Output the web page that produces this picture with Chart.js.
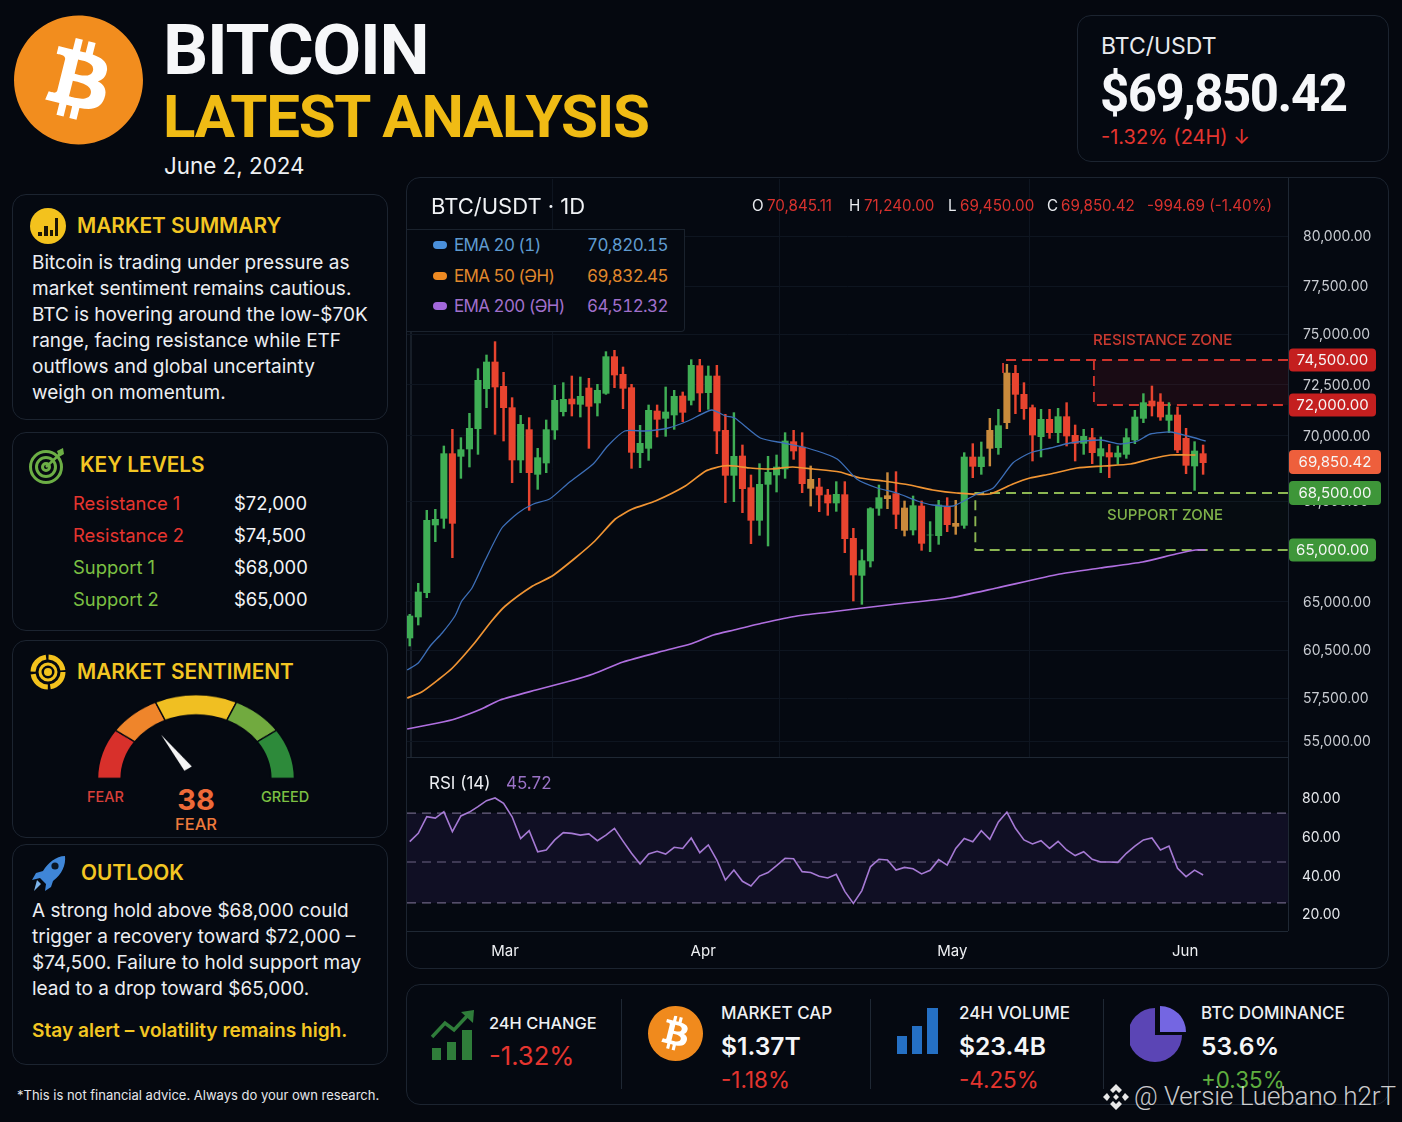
<!DOCTYPE html>
<html>
<head>
<meta charset="utf-8">
<title>Bitcoin Latest Analysis</title>
<script src="https://cdn.jsdelivr.net/npm/chart.js@4"></script>
<style>
* { box-sizing: border-box; margin: 0; padding: 0; }
html, body { width: 1402px; height: 1122px; overflow: hidden; background: #05080f; font-family: Inter, sans-serif; color: #f2f4f7; }
.abs, .card, canvas, svg { position: absolute; }
.t { position: absolute; white-space: nowrap; line-height: 1; }
.card { border: 1px solid #1c2430; border-radius: 14px; background: #050911; }
.head { font-weight: 600; font-size: 20.8px; color: #f3c623; }
.body { font-size: 19px; line-height: 26px; color: #eceef2; }
.lvl { font-size: 18.4px; }
.red { color: #e5352f; }
.green { color: #7cc043; }
.lab { font-size: 17px; font-weight: 500; color: #eef0f3; }
.big { font-size: 24.6px; font-weight: 600; color: #f4f5f7; }
.chg { font-size: 22.4px; }
.ohlc { font-size: 15.2px; color: #e8eaee; }
.ohlc.red { color: #d9322e; }
.leg { font-size: 17px; font-feature-settings: "tnum"; letter-spacing: -0.6px; }
.sw { position: absolute; width: 14px; height: 8px; border-radius: 4px; }
.line { position: absolute; background: #1f2834; }
</style>
</head>
<body>

<svg style="left:14px;top:15px" width="129" height="130" viewBox="0 0 24 24">
  <circle cx="12" cy="12" r="8" fill="#fff"/>
  <path fill="#f28d1e" d="M23.638 14.904c-1.602 6.43-8.113 10.34-14.542 8.736C2.67 22.05-1.244 15.525.362 9.105 1.962 2.67 8.475-1.243 14.9.358c6.43 1.605 10.342 8.115 8.738 14.548v-.002zm-6.35-4.613c.24-1.59-.974-2.45-2.64-3.03l.54-2.153-1.315-.33-.525 2.107c-.345-.087-.705-.167-1.064-.25l.526-2.127-1.32-.33-.54 2.165c-.285-.067-.565-.132-.84-.2l-1.815-.45-.35 1.407s.975.225.955.236c.535.136.63.486.615.766l-1.477 5.92c-.075.166-.24.406-.614.314.015.02-.96-.24-.96-.24l-.66 1.51 1.71.426.93.242-.54 2.19 1.32.327.54-2.17c.36.1.705.19 1.05.273l-.51 2.154 1.32.33.545-2.19c2.24.427 3.93.257 4.64-1.774.57-1.637-.03-2.58-1.217-3.196.854-.193 1.5-.76 1.68-1.93h.01zm-3.01 4.22c-.404 1.64-3.157.75-4.05.53l.72-2.9c.896.23 3.757.67 3.33 2.37zm.41-4.24c-.37 1.49-2.662.735-3.405.55l.654-2.64c.744.18 3.137.524 2.75 2.084v.006z"/>
</svg>
<div class="t" style="left:163px;top:14px;font-family:Roboto;font-size:71px;font-weight:700;letter-spacing:-1.3px;color:#f6f7f9">BITCOIN</div>
<div class="t" style="left:163px;top:87px;font-family:Roboto;font-size:60px;font-weight:700;letter-spacing:-1.25px;color:#f0bb14">LATEST ANALYSIS</div>
<div class="t" style="left:164px;top:155px;font-size:22.4px;color:#eef0f3">June 2, 2024</div>

<div class="card" style="left:1077px;top:15px;width:312px;height:147px"></div>
<div class="t" style="left:1101px;top:35px;font-size:23px;color:#e8eaee">BTC/USDT</div>
<div class="t" style="left:1100px;top:68px;font-family:Roboto;font-size:51px;font-weight:700;letter-spacing:-1.5px;color:#f6f7f9">$69,850.42</div>
<div class="t red" style="left:1101px;top:127px;font-size:20px">-1.32% (24H) ↓</div>

<!-- left column -->
<div class="card" style="left:12px;top:194px;width:376px;height:226px"></div>
<svg style="left:30px;top:208px" width="36" height="36" viewBox="0 0 36 36">
  <circle cx="18" cy="18" r="18" fill="#f3c21d"/>
  <path fill="#1c1606" d="M8 24h4v4H8zM14 18h4v10h-4zM20 22h3v6h-3zM25 10h3v18h-3z"/>
</svg>
<div class="t head" style="left:77px;top:216px">MARKET SUMMARY</div>
<div class="t body" style="left:32px;top:250px">Bitcoin is trading under pressure as<br>market sentiment remains cautious.<br>BTC is hovering around the low-$70K<br>range, facing resistance while ETF<br>outflows and global uncertainty<br>weigh on momentum.</div>

<div class="card" style="left:12px;top:432px;width:376px;height:199px"></div>
<svg style="left:28px;top:447px" width="38" height="38" viewBox="0 0 38 38" fill="none" stroke="#6cae45" stroke-width="3">
  <circle cx="18" cy="20" r="15.5"/><circle cx="18" cy="20" r="9.5"/><circle cx="18" cy="20" r="3.5"/>
  <path d="M18 20L33 6" stroke-width="2.5"/><path fill="#6cae45" stroke="none" d="M29 4l6-3 1 6-5 3z"/>
</svg>
<div class="t head" style="left:80px;top:455px">KEY LEVELS</div>
<div class="t red lvl" style="left:73px;top:494px">Resistance 1</div>
<div class="t lvl" style="left:234px;top:494px">$72,000</div>
<div class="t red lvl" style="left:73px;top:526px">Resistance 2</div>
<div class="t lvl" style="left:234px;top:526px">$74,500</div>
<div class="t green lvl" style="left:73px;top:558px">Support 1</div>
<div class="t lvl" style="left:234px;top:558px">$68,000</div>
<div class="t green lvl" style="left:73px;top:590px">Support 2</div>
<div class="t lvl" style="left:234px;top:590px">$65,000</div>

<div class="card" style="left:12px;top:640px;width:376px;height:198px"></div>
<svg style="left:30px;top:654px" width="36" height="36" viewBox="0 0 36 36" fill="none" stroke="#f3c21d">
  <circle cx="18" cy="18" r="15" stroke-width="5" stroke-dasharray="21 2.6"/>
  <circle cx="18" cy="18" r="8" stroke-width="3"/><circle cx="18" cy="18" r="4" fill="#f3c21d" stroke="none"/>
</svg>
<div class="t head" style="left:77px;top:662px">MARKET SENTIMENT</div>
<div class="abs" style="left:96px;top:694px;width:200px;height:100px;transform:scaleY(0.85);transform-origin:top left">
  <canvas id="gaugeChart" width="200" height="100" style="left:0;top:0"></canvas>
</div>
<div class="t red" style="left:87px;top:790px;font-size:14.5px;font-weight:500;color:#d8403a">FEAR</div>
<div class="t green" style="left:261px;top:790px;font-size:14.5px;font-weight:500">GREED</div>
<div class="t" style="left:156px;top:785px;width:80px;text-align:center;font-size:29px;font-weight:700;color:#ee6a38">38</div>
<div class="t" style="left:156px;top:816px;width:80px;text-align:center;font-size:16.5px;font-weight:500;color:#ee7a3c">FEAR</div>

<div class="card" style="left:12px;top:844px;width:376px;height:221px"></div>
<svg style="left:30px;top:855px" width="36" height="37" viewBox="0 0 36 37">
  <path fill="#3f86d8" d="M35 1c1 9-3 18-12 25l-2 6-6 4 1-7-6-6-8 2 4-7 7-2C18 8 26 1 35 1z"/>
  <circle cx="25" cy="11" r="3.6" fill="#0a1626"/>
  <path fill="#7db4ea" d="M7 25l4 4-7 7z"/>
</svg>
<div class="t head" style="left:81px;top:863px">OUTLOOK</div>
<div class="t body" style="left:32px;top:898px">A strong hold above $68,000 could<br>trigger a recovery toward $72,000 –<br>$74,500. Failure to hold support may<br>lead to a drop toward $65,000.</div>
<div class="t" style="left:32px;top:1021px;font-size:19.1px;font-weight:600;color:#f3c623">Stay alert – volatility remains high.</div>
<div class="t" style="left:17px;top:1089px;font-size:13px;color:#e4e6ea">*This is not financial advice. Always do your own research.</div>

<!-- chart panel -->
<div class="card" style="left:406px;top:177px;width:983px;height:792px"></div>
<div class="line" style="left:410px;top:332px;width:2px;height:425px;background:#171e28"></div>
<canvas id="priceChart" width="981" height="579" style="left:407px;top:179px"></canvas>
<canvas id="rsiChart" width="981" height="212" style="left:407px;top:757px"></canvas>
<div class="line" style="left:1288px;top:178px;width:1px;height:753px"></div>
<div class="line" style="left:407px;top:757px;width:881px;height:1px"></div>
<div class="line" style="left:407px;top:931px;width:881px;height:1px"></div>

<div class="abs" style="left:407px;top:229px;width:278px;height:103px;background:#050911;border:1px solid #1a222d;border-left:0;border-radius:0 0 4px 0"></div>
<div class="t" style="left:431px;top:195px;font-size:22px;color:#f0f2f5">BTC/USDT · 1D</div>
<div class="t ohlc" style="left:752px;top:198px">O</div><div class="t ohlc red" style="left:767px;top:198px">70,845.11</div>
<div class="t ohlc" style="left:849px;top:198px">H</div><div class="t ohlc red" style="left:864px;top:198px">71,240.00</div>
<div class="t ohlc" style="left:948px;top:198px">L</div><div class="t ohlc red" style="left:960px;top:198px">69,450.00</div>
<div class="t ohlc" style="left:1047px;top:198px">C</div><div class="t ohlc red" style="left:1061px;top:198px">69,850.42</div>
<div class="t ohlc red" style="left:1147px;top:198px">-994.69 (-1.40%)</div>

<div class="sw" style="left:433px;top:241px;background:#4a90dc"></div>
<div class="t leg" style="left:454px;top:237px;color:#5f9bd0">EMA 20 (1)</div>
<div class="t leg" style="left:587px;top:237px;color:#5f9bd0">70,820.15</div>
<div class="sw" style="left:433px;top:272px;background:#ee8a22"></div>
<div class="t leg" style="left:454px;top:268px;color:#e0882c">EMA 50 (ƏH)</div>
<div class="t leg" style="left:587px;top:268px;color:#e0882c">69,832.45</div>
<div class="sw" style="left:433px;top:302px;background:#a368dc"></div>
<div class="t leg" style="left:454px;top:298px;color:#a070cc">EMA 200 (ƏH)</div>
<div class="t leg" style="left:587px;top:298px;color:#a070cc">64,512.32</div>

<div class="t" style="left:1093px;top:332px;font-size:15.2px;font-weight:500;color:#c93a30">RESISTANCE ZONE</div>
<div class="t" style="left:1107px;top:507px;font-size:15px;font-weight:500;color:#7fb24a">SUPPORT ZONE</div>
<div class="t" style="left:429px;top:775px;font-size:17px;color:#eceef2">RSI (14)</div>
<div class="t" style="left:506px;top:775px;font-size:17px;color:#9a72c6">45.72</div>

<!-- bottom stats -->
<div class="card" style="left:406px;top:984px;width:983px;height:121px"></div>
<div class="line" style="left:621px;top:999px;width:1px;height:90px"></div>
<div class="line" style="left:870px;top:999px;width:1px;height:90px"></div>
<div class="line" style="left:1103px;top:999px;width:1px;height:90px"></div>

<svg style="left:431px;top:1010px" width="43" height="50" viewBox="0 0 43 50">
  <path fill="#2f7d3a" d="M1 38h9v12H1zM16 32h9v18h-9zM31 20h10v30H31z"/>
  <path fill="none" stroke="#2f7d3a" stroke-width="3.5" d="M1 27l13-14 9 7L37 5"/>
  <path fill="#2f7d3a" d="M30 2l13-2-1 13z"/>
</svg>
<div class="t lab" style="left:489px;top:1015px;font-size:16.4px">24H CHANGE</div>
<div class="t red" style="left:489px;top:1043px;font-size:25.6px">-1.32%</div>

<svg style="left:648px;top:1006px" width="55" height="55" viewBox="0 0 24 24">
  <circle cx="12" cy="12" r="8" fill="#fff"/>
  <path fill="#f08a1d" d="M23.638 14.904c-1.602 6.43-8.113 10.34-14.542 8.736C2.67 22.05-1.244 15.525.362 9.105 1.962 2.67 8.475-1.243 14.9.358c6.43 1.605 10.342 8.115 8.738 14.548v-.002zm-6.35-4.613c.24-1.59-.974-2.45-2.64-3.03l.54-2.153-1.315-.33-.525 2.107c-.345-.087-.705-.167-1.064-.25l.526-2.127-1.32-.33-.54 2.165c-.285-.067-.565-.132-.84-.2l-1.815-.45-.35 1.407s.975.225.955.236c.535.136.63.486.615.766l-1.477 5.92c-.075.166-.24.406-.614.314.015.02-.96-.24-.96-.24l-.66 1.51 1.71.426.93.242-.54 2.19 1.32.327.54-2.17c.36.1.705.19 1.05.273l-.51 2.154 1.32.33.545-2.19c2.24.427 3.93.257 4.64-1.774.57-1.637-.03-2.58-1.217-3.196.854-.193 1.5-.76 1.68-1.93h.01zm-3.01 4.22c-.404 1.64-3.157.75-4.05.53l.72-2.9c.896.23 3.757.67 3.33 2.37zm.41-4.24c-.37 1.49-2.662.735-3.405.55l.654-2.64c.744.18 3.137.524 2.75 2.084v.006z"/>
</svg>
<div class="t lab" style="left:721px;top:1005px">MARKET CAP</div>
<div class="t big" style="left:721px;top:1034px">$1.37T</div>
<div class="t red chg" style="left:721px;top:1069px">-1.18%</div>

<svg style="left:897px;top:1008px" width="42" height="46" viewBox="0 0 42 46">
  <path fill="#2570c4" d="M0 28h10v18H0zM15 18h10v28H15zM30 0h11v46H30z"/>
</svg>
<div class="t lab" style="left:959px;top:1005px">24H VOLUME</div>
<div class="t big" style="left:959px;top:1034px">$23.4B</div>
<div class="t red chg" style="left:959px;top:1069px">-4.25%</div>

<svg style="left:1130px;top:1006px" width="56" height="56" viewBox="0 0 56 56">
  <path fill="#5b45b5" d="M25 2A27 27 0 1 0 52 29H25z"/>
  <path fill="#7466e2" d="M30 0a26 26 0 0 1 26 26H30z"/>
</svg>
<div class="t lab" style="left:1201px;top:1005px">BTC DOMINANCE</div>
<div class="t big" style="left:1201px;top:1034px">53.6%</div>
<div class="t green chg" style="left:1201px;top:1069px;color:#5fae3f">+0.35%</div>

<svg style="left:1102px;top:1083px" width="28" height="28" viewBox="0 0 28 28" fill="#e8e8e8">
  <path d="M14 1l6 6-3 3-3-3-3 3-3-3zM14 27l6-6-3-3-3 3-3-3-3 3zM1 14l4-4 3 4-3 4zM27 14l-4-4-3 4 3 4zM14 11l3 3-3 3-3-3z"/>
</svg>
<div class="t" style="left:1134px;top:1083px;font-family:Roboto;font-size:26px;font-weight:300;letter-spacing:-0.1px;color:rgba(240,240,240,.85)">@ Versie Luebano h2rT</div>

<script>
Chart.defaults.font.family = 'Inter, sans-serif';
Chart.defaults.animation = false;

// candles
const opens = [59900,60950,62167,65550,65883,69117,68983,69350,70367,72367,73700,72483,71417,68800,70317,68083,68650,70300,71217,71850,71583,72400,71650,72133,73967,73083,72417,69167,69383,71250,70883,71050,72000,71783,73517,72167,73000,70283,
  68033,69000,67417,65783,67583,68050,68350,69717,69450,67833,67450,67050,66650,67067,64883,63033,63750,66383,67017,67117,66400,65300,66500,65050,65017,66483,65633,65533,68950,68467,70283,69417,70667,73133,72083,71417,69967,70833,70167,70967,70033,69633,69917,69000,69167,68950,69083,69800,70883,71750,71700,70783,71050,69883,68500,69117];
const closes = [61000,62200,65783,65833,69117,65633,69317,70383,72783,73700,72450,71417,68800,70583,68167,68917,70317,71783,71833,71600,71983,71483,72283,73967,73050,72383,69183,69633,71283,70833,71200,71983,71183,73533,72150,73000,70250,68033,
  68983,67367,65783,67583,68183,68450,69750,69250,67617,67383,67050,66650,67083,64867,63050,63767,66367,66917,66867,66083,65283,66517,64633,65050,66550,65567,65483,68950,68483,68950,69383,70517,73150,72083,71367,70050,70833,70167,70967,70000,69633,69983,69167,69367,68950,69150,69917,70950,71667,71500,70950,71050,69300,68533,69250,68667];
const highs = [61083,62633,66283,66333,69500,70333,69917,71133,73367,74050,74717,73183,71917,71033,70917,69383,70800,72533,72667,73000,72950,72883,72583,74217,74283,73450,72583,70533,71550,71550,72450,72283,72200,73817,73833,73500,73533,71083,
  71167,69550,68050,68617,68983,69050,70167,70283,70167,68500,67883,67333,67717,67717,65383,64317,66417,67550,68167,68217,66750,67000,66750,65717,66783,66917,66783,69167,69617,69700,70883,71333,73583,73533,72667,71550,71333,71333,71383,71667,70550,70333,70383,69950,69583,69500,70367,71283,72117,72500,72117,71667,71450,70383,69717,69550];
const lows = [59500,60550,61917,64717,65383,63917,67883,68450,69083,71417,70083,69750,67667,68167,66283,67333,68167,69833,71000,71000,70950,69383,71000,72083,72417,71367,68383,68417,68783,69950,69983,70333,70717,71550,71217,71333,69117,66667,
  66717,66167,64617,65033,64500,67200,67883,68833,67167,66500,66217,66033,66233,64167,61750,61583,63450,66033,66367,65367,65000,65050,64283,64217,64583,65217,65083,65383,67917,68083,68500,69083,70367,71117,70833,68750,68950,69883,69667,69500,68750,69083,68617,68167,67917,68583,68883,69617,70667,71000,70783,70167,69167,68117,67283,68083];
// candles that look washed out orange/brown in the picture
const tintedCandles = [47, 56, 58, 64, 68, 70];

// moving averages as [candle index], [level]
const ema20Idx = [-0.3,1,2.4,3.8,5.3,6.1,7.3,8.8,10.8,12.7,14.5,16.4,18.6,21.5,23.2,25.2,27.6,30.3,32.6,35.4,37,38.1,41.1,43.8,46.6,50.1,52.4,54.8,57.1,59.5,61.3,63.7,66.5,68.4,70.7,72.7,75.1,77.4,81,83.3,85.3,86.8,89.2,91.2,93.3];
const ema20 = [58300,58650,59500,60150,61000,61750,62400,63750,65400,66150,66600,66850,67650,68600,69500,70250,70250,70400,70750,71300,71000,70900,69900,69650,69400,68850,67850,67400,67150,66750,66550,66500,67100,67400,68650,69150,69400,69650,69800,69600,69750,70100,70200,70000,69750];
const ema50Idx = [-0.3,1.4,3.3,5,7.6,9.6,11.2,14.4,16.7,19.4,21.7,24.1,26.1,28.8,32.3,34.7,36.7,38.1,39.9,42.2,44.9,47.3,50.4,52.8,55.5,58.6,61.3,64.1,68,70.7,72.7,75.1,78.2,81.3,84.5,86.8,89.2,91.2,92.1];
const ema50 = [56900,57200,57800,58400,59650,60750,61500,62500,63000,63900,64750,65850,66350,66750,67500,68250,68500,68500,68400,68350,68450,68350,68200,67900,67750,67550,67300,67150,67100,67600,67900,68100,68400,68500,68600,68850,69050,69050,69050];
const ema200Idx = [-0.3,3.3,5.3,8.4,10.6,14.8,18.8,21.5,25,29.7,32.9,35.6,38,41.4,45.4,49.3,53.1,57.1,63.3,68.8,76.2,80.9,85.9,89.8,92.1,93.3];
const ema200 = [55350,55650,55850,56350,56800,57300,57750,58100,58700,59250,59600,60050,60300,60650,61000,61200,61400,61600,61900,62400,63100,63400,63700,64100,64300,64300];

const rsi = [56.9,61.2,69.8,69.1,72.4,62.1,70.2,72.2,75.0,78.1,79.5,76.7,69.8,58.5,62.6,51.7,52.6,57.8,61.6,61.2,60.3,60.9,57.4,60.3,63.8,57.2,50.9,45.4,50.5,51.9,50.5,54.0,53.4,58.8,51.2,55.2,47.4,37.1,42.2,36.4,34.0,39.1,40.9,44.5,48.3,48.1,41.4,41.0,39.0,38.1,40.0,31.2,25.0,31.6,43.9,47.8,
  47.4,42.2,43.6,42.9,40.2,42.1,47.6,44.8,53.4,58.6,56.9,62.6,58.1,67.1,72.2,63.8,57.8,55.7,57.4,53.4,57.1,52.6,49.7,51.7,47.8,46.4,46.4,46.2,50.9,54.6,57.8,58.8,52.6,54.6,43.1,38.8,42.2,39.7];
const rsiLevels = [71.7, 46.4, 25.2];
const rsiTicks = [80, 60, 40, 20];

// the printed price axis is not even, the picture repeats 65,000 and hides 67,500
const priceTicks = [80000,77500,75100,72550,70000,66750,61700,59300,56900,54750];
const priceTickLabels = ['80,000.00','77,500.00','75,000.00','72,500.00','70,000.00','67,500.00','65,000.00','60,500.00','57,500.00','55,000.00'];

const months = ['Mar','Apr','May','Jun'];
const monthIdx = [11.17,34.4,63.6,90.9];
const gridIdx = [0.15,33.3,53.4,92];

const levelValues = [73800,71550,68700,67150,64300];
const levelLabels = ['74,500.00','72,000.00','69,850.42','68,500.00','65,000.00'];
const levelColors = ['#c41f1f','#c41f1f','#ee5f3c','#3e9639','#3e9639'];

const gaugeBands = [19.5,17,27,17,19.5];
const gaugeColors = ['#d8302b','#ef852b','#f0bf22','#71aa3f','#2d8a3a'];
const gaugeNeedle = 31;

const idx = opens.map((_, i) => i);
const UP = '#3fae55', DOWN = '#e8442f', TINT = '#c98a3c';
const isUp = i => closes[i] >= opens[i];
const candleColor = i => tintedCandles.includes(i) ? TINT : (isUp(i) ? UP : DOWN);
const xy = (xs, ys) => xs.map((x, i) => ({ x, y: ys[i] }));
const XMIN = -0.32, XMAX = 102.95;

// Chart.js keeps room for the end labels, these panels sit edge to edge
const noPadding = s => { s.paddingTop = s.paddingBottom = s.paddingLeft = s.paddingRight = 0; };

// dashed zones and price tags on the right
const zonesPlugin = {
    id: 'zones',
    beforeDatasetsDraw(chart) {
        const { ctx, chartArea: a, scales: { x, y } } = chart;
        const X = v => x.getPixelForValue(v), Y = v => y.getPixelForValue(v);
        ctx.save();
        ctx.fillStyle = 'rgba(150,30,40,0.14)';
        ctx.fillRect(X(80.2), Y(levelValues[0]), a.right - X(80.2), Y(levelValues[1]) - Y(levelValues[0]));
        ctx.fillStyle = 'rgba(90,160,60,0.025)';
        ctx.fillRect(X(66.3), Y(levelValues[3]), a.right - X(66.3), Y(levelValues[4]) - Y(levelValues[3]));
        ctx.setLineDash([10, 6]);
        ctx.lineWidth = 1.9;
        ctx.strokeStyle = '#d0342c';
        ctx.beginPath();
        ctx.moveTo(X(69.55), Y(levelValues[1]) - 32); ctx.lineTo(X(69.55), Y(levelValues[0])); ctx.lineTo(a.right, Y(levelValues[0]));
        ctx.moveTo(X(80.2), Y(levelValues[0])); ctx.lineTo(X(80.2), Y(levelValues[1])); ctx.lineTo(a.right, Y(levelValues[1]));
        ctx.stroke();
        ctx.strokeStyle = '#8cb652';
        ctx.beginPath();
        ctx.moveTo(a.right, Y(levelValues[3])); ctx.lineTo(X(66.3), Y(levelValues[3])); ctx.lineTo(X(66.3), Y(levelValues[4])); ctx.lineTo(a.right, Y(levelValues[4]));
        ctx.stroke();
        ctx.restore();
    },
    afterDraw(chart) {
        const { ctx, chartArea: a, scales: { y } } = chart;
        ctx.save();
        ctx.font = '15px Inter, sans-serif';
        ctx.textAlign = 'center';
        ctx.textBaseline = 'middle';
        levelValues.forEach((v, i) => {
            const w = (i === 2 || i === 3) ? 92 : 87, h = (i === 2 || i === 3) ? 24 : 23, py = y.getPixelForValue(v);
            ctx.fillStyle = levelColors[i];
            ctx.beginPath();
            ctx.roundRect(a.right + 1, py - h / 2, w, h, 4);
            ctx.fill();
            ctx.fillStyle = '#f6f6f6';
            ctx.fillText(levelLabels[i], a.right + 1 + w / 2, py);
        });
        ctx.restore();
    }
};

new Chart(document.getElementById('priceChart'), {
    type: 'bar',
    data: {
        datasets: [
            { type: 'line', data: xy(ema20Idx, ema20), borderColor: '#3d6fb8', borderWidth: 1.3, pointRadius: 0, tension: 0.2, order: 1 },
            { type: 'line', data: xy(ema50Idx, ema50), borderColor: '#f09433', borderWidth: 1.7, pointRadius: 0, tension: 0.2, order: 1 },
            { type: 'line', data: xy(ema200Idx, ema200), borderColor: '#b06fe0', borderWidth: 1.7, pointRadius: 0, tension: 0.2, order: 1 },
            { data: idx.map(i => ({ x: i, y: [opens[i], closes[i]] })), backgroundColor: idx.map(candleColor), barThickness: 6.4, grouped: false, order: 2 },
            { data: idx.map(i => ({ x: i, y: [lows[i], highs[i]] })), backgroundColor: idx.map(candleColor), barThickness: 1.8, grouped: false, order: 3 }
        ]
    },
    options: {
        responsive: false,
        layout: { padding: 0 },
        plugins: { legend: { display: false }, tooltip: { enabled: false } },
        scales: {
            x: {
                type: 'linear', min: XMIN, max: XMAX, offset: false,
                afterBuildTicks: s => { s.ticks = gridIdx.map(value => ({ value })); },
                afterFit: s => { s.height = 0; noPadding(s); },
                ticks: { display: false, autoSkip: false },
                grid: { color: '#0e1520', drawTicks: false },
                border: { display: false }
            },
            y: {
                position: 'right', min: 53900, max: 82850,
                afterBuildTicks: s => { s.ticks = priceTicks.map(value => ({ value })); },
                afterFit: s => { s.width = 100; noPadding(s); },
                ticks: {
                    autoSkip: false, padding: 15, labelOffset: 1, color: '#c9ccd2', font: { size: 14 },
                    callback: v => priceTickLabels[priceTicks.indexOf(v)]
                },
                grid: { color: '#0e1520', drawTicks: false },
                border: { display: false }
            }
        }
    },
    plugins: [zonesPlugin]
});

// RSI band and its dashed levels
const rsiBandPlugin = {
    id: 'rsiBand',
    beforeDatasetsDraw(chart) {
        const { ctx, chartArea: a, scales: { y } } = chart;
        const top = y.getPixelForValue(rsiLevels[0]), bottom = y.getPixelForValue(rsiLevels[2]);
        ctx.save();
        ctx.fillStyle = 'rgba(90,60,170,0.13)';
        ctx.fillRect(a.left, top, a.width, bottom - top);
        ctx.setLineDash([9, 6]);
        ctx.lineWidth = 1.2;
        ctx.strokeStyle = '#6d6483';
        rsiLevels.forEach(v => {
            const p = y.getPixelForValue(v);
            ctx.beginPath(); ctx.moveTo(a.left, p); ctx.lineTo(a.right, p); ctx.stroke();
        });
        ctx.restore();
    }
};

new Chart(document.getElementById('rsiChart'), {
    type: 'line',
    data: { datasets: [{ data: xy(idx, rsi), borderColor: '#a67ad4', borderWidth: 1.6, pointRadius: 0, tension: 0 }] },
    options: {
        responsive: false,
        layout: { padding: 0 },
        plugins: { legend: { display: false }, tooltip: { enabled: false } },
        scales: {
            x: {
                type: 'linear', min: XMIN, max: XMAX,
                afterBuildTicks: s => { s.ticks = monthIdx.map(value => ({ value })); },
                afterFit: s => { s.height = 38; noPadding(s); },
                ticks: {
                    autoSkip: false, maxRotation: 0, padding: 11, color: '#eef0f3', font: { size: 15 },
                    callback: v => months[monthIdx.indexOf(v)]
                },
                grid: { display: false, drawTicks: false },
                border: { display: false }
            },
            y: {
                position: 'right', min: 10.7, max: 100.7,
                afterBuildTicks: s => { s.ticks = rsiTicks.map(value => ({ value })); },
                afterFit: s => { s.width = 100; noPadding(s); },
                ticks: {
                    autoSkip: false, padding: 14, labelOffset: 2, color: '#e6e8ec', font: { size: 14 },
                    callback: v => v.toFixed(2)
                },
                grid: { display: false, drawTicks: false },
                border: { display: false }
            }
        }
    },
    plugins: [rsiBandPlugin]
});

// needle is drawn from the same 0-100 range as the bands
const needlePlugin = {
    id: 'needle',
    afterDraw(chart) {
        const arc = chart.getDatasetMeta(0).data[0];
        const a = Math.PI * (1 - gaugeNeedle / 100);
        const dx = Math.cos(a), dy = -Math.sin(a);
        const ctx = chart.ctx;
        ctx.save();
        ctx.fillStyle = '#f4f4f4';
        ctx.beginPath();
        ctx.moveTo(arc.x + dx * 62, arc.y + dy * 62);
        ctx.lineTo(arc.x + dx * 14 - dy * 4.5, arc.y + dy * 14 + dx * 4.5);
        ctx.lineTo(arc.x + dx * 14 + dy * 4.5, arc.y + dy * 14 - dx * 4.5);
        ctx.closePath();
        ctx.fill();
        ctx.restore();
    }
};

new Chart(document.getElementById('gaugeChart'), {
    type: 'doughnut',
    data: { datasets: [{ data: gaugeBands, backgroundColor: gaugeColors, borderColor: '#050911', borderWidth: 1.5 }] },
    options: {
        responsive: false,
        rotation: -90, circumference: 180, cutout: '76%',
        layout: { padding: 0 },
        plugins: { legend: { display: false }, tooltip: { enabled: false } }
    },
    plugins: [needlePlugin]
});
</script>
</body>
</html>
